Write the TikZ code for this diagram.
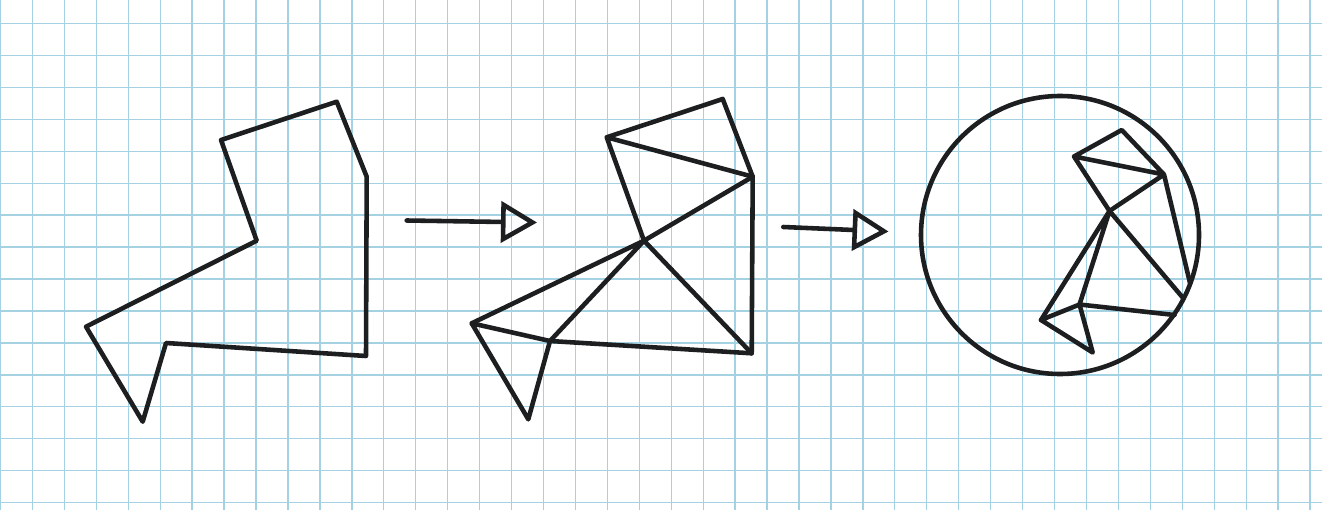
\documentclass[tikz,border=0pt]{standalone}
\usepackage{tikz}
\usetikzlibrary{arrows.meta}
\definecolor{gridblue}{RGB}{165,210,226}
\definecolor{pencil}{RGB}{28,30,32}
\tikzset{
    gridline/.style = {draw=gridblue, line width=0.75pt},
    pencil/.style   = {draw=pencil, line width=2.6pt, line join=round, line cap=round}, % the hand drawn strokes
    maparrow/.style = {pencil, -{Triangle[open, length=7.2mm, width=8.2mm, line width=2.6pt]}}
}
\begin{document}
\begin{tikzpicture}[x=0.02cm, y=-0.02cm]
  \useasboundingbox (0,0) rectangle (1322,510);
  \fill[white] (0,0) rectangle (1322,510);
  % squared paper
  \foreach \k in {0,...,41}
    \draw[gridline] ({0.5+31.94*\k},0) -- ++(0,510);
  \foreach \k in {0,...,15}
    \draw[gridline] (0,{23.5+31.94*\k}) -- ++(1322,0);

  % polygon
  \coordinate (pA) at (336.7,101.7);
  \coordinate (pB) at (366.7,176.7);
  \coordinate (pC) at (366,356);
  \coordinate (pD) at (166,343);
  \coordinate (pF) at (142.7,421.7);
  \coordinate (pG) at (86,326.7);
  \coordinate (pH) at (256.7,240.7);
  \coordinate (pI) at (221,140);
  \draw[pencil] (pA) -- (pB) -- (pC) -- (pD) -- (pF) -- (pG) -- (pH) -- (pI) -- cycle;

  % triangulated polygon
  \coordinate (tA) at (722.7,99);
  \coordinate (tB) at (752.7,176.7);
  \coordinate (tC) at (751.7,353.3);
  \coordinate (tD) at (550,341);
  \coordinate (tF) at (528.3,419.3);
  \coordinate (tG) at (471.7,323.3);
  \coordinate (tH) at (644,240.7);
  \coordinate (tI) at (606.7,137.3);
  \draw[pencil] (tA) -- (tB) -- (tC) -- (tD) -- (tF) -- (tG) -- (tD);
  \draw[pencil] (tI) -- (tA) (tI) -- (tB) (tI) -- (tH);
  \draw[pencil] (tG) -- (tH) -- (tB) (tH) -- (tC) (tH) -- (tD);

  % triangulation in the disk
  \coordinate (dO) at (1060,235);
  \coordinate (da) at (1121.7,130);
  \coordinate (db) at (1074,156.5);
  \coordinate (dc) at (1164,174.5);
  \coordinate (dd) at (1109.5,211);
  \coordinate (de) at (1190,283);
  \coordinate (df) at (1183.5,298.5);
  \coordinate (dg) at (1174.5,315);
  \coordinate (dh) at (1079.5,304.5);
  \coordinate (di) at (1041,320);
  \coordinate (dj) at (1092.7,352.5);
  \draw[pencil] (dO) circle[radius=139];
  \draw[pencil] (da) -- (db) -- (dc) -- cycle (db) -- (dd) -- (dc) -- (de);
  \draw[pencil] (dd) -- (df) (dd) -- (di) (dd) -- (dh) -- (dg);
  \draw[pencil] (di) -- (dh) -- (dj) -- (di);

  % maps
  \coordinate (m1s) at (406.7,220.5);
  \coordinate (m1e) at (537,222.5);
  \coordinate (m2s) at (783.3,227);
  \coordinate (m2e) at (888.5,231.5);
  \draw[maparrow] (m1s) -- (m1e);
  \draw[maparrow] (m2s) -- (m2e);
\end{tikzpicture}
\end{document}
